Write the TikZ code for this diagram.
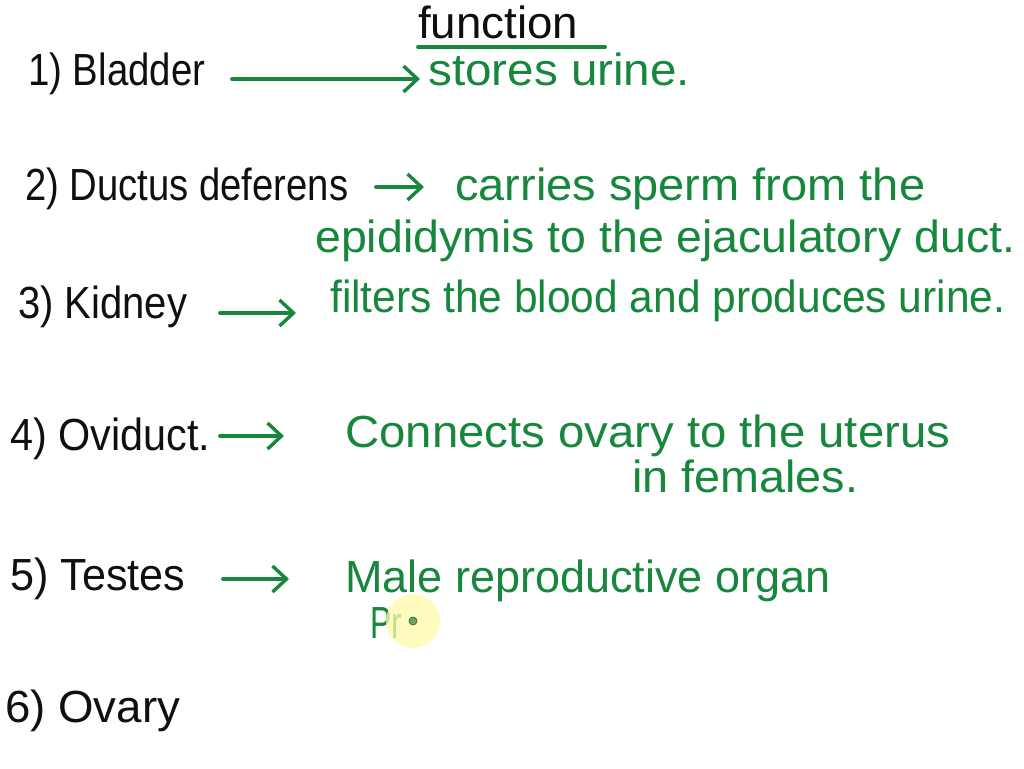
\documentclass[tikz,border=0pt]{standalone}
\usepackage{fontspec}
\setmainfont{Liberation Sans}
\usetikzlibrary{arrows.meta}
\definecolor{ink}{RGB}{22,135,60}
\definecolor{pen}{RGB}{15,15,15}
\definecolor{cursorfill}{RGB}{255,250,170}
\definecolor{cursordot}{RGB}{110,165,95}
\newcommand\fitw[2]{\resizebox{#1pt}{\height}{#2}}
\tikzset{
  organ/.style={anchor=base west, inner sep=0pt, text=pen, font=\fontsize{45}{50}\selectfont},
  func/.style={anchor=base west, inner sep=0pt, text=ink, font=\fontsize{45}{50}\selectfont},
  arr/.style={draw=ink, line width=3.8pt, line cap=round, -{Straight Barb[length=14pt,width=26pt,line width=3.4pt]}},
  uline/.style={draw=ink, line width=3.8pt, line cap=round}
}
\begin{document}
\begin{tikzpicture}[x=1pt,y=-1pt]
\useasboundingbox[fill=white] (0,0) rectangle (1024,768);
% heading
\node[organ] (head) at (418,38) {\fitw{160}{function}};
\coordinate (ulA) at (418,47);
\coordinate (ulB) at (605,47);
\draw[uline] (ulA) -- (ulB);
% 1
\node[organ] (o1) at (28,85) {\fitw{177}{1) Bladder}};
\node[func] (f1) at (428,85) {\fitw{262}{stores urine.}};
\coordinate (a1s) at (232,79); \coordinate (a1e) at (420,79);
\draw[arr] (a1s) -- (a1e);
% 2
\node[organ] (o2) at (25,200) {\fitw{323}{2) Ductus deferens}};
\node[func] (f2) at (455,200) {\fitw{470}{carries sperm from the}};
\node[func] (f2b) at (315,252) {\fitw{700}{epididymis to the ejaculatory duct.}};
\coordinate (a2s) at (376,187); \coordinate (a2e) at (424,187);
\draw[arr] (a2s) -- (a2e);
% 3
\node[organ] (o3) at (18,318) {\fitw{169}{3) Kidney}};
\node[func] (f3) at (330,312) {\fitw{675}{filters the blood and produces urine.}};
\coordinate (a3s) at (220,313); \coordinate (a3e) at (296,313);
\draw[arr] (a3s) -- (a3e);
% 4
\node[organ] (o4) at (10,450) {\fitw{200}{4) Oviduct.}};
\node[func] (f4) at (345,447) {\fitw{605}{Connects ovary to the uterus}};
\node[func] (f4b) at (632,492) {\fitw{226}{in females.}};
\coordinate (a4s) at (220,436); \coordinate (a4e) at (284,436);
\draw[arr] (a4s) -- (a4e);
% 5
\node[organ] (o5) at (10,590) {\fitw{175}{5) Testes}};
\node[func] (f5) at (345,592) {\fitw{485}{Male reproductive organ}};
\node[func] (f5b) at (370,638) {\fitw{32}{Pr}};
\coordinate (a5s) at (223,579); \coordinate (a5e) at (289,579);
\draw[arr] (a5s) -- (a5e);
% 6
\node[organ] (o6) at (5,722) {\fitw{175}{6) Ovary}};
% cursor
\fill[cursorfill, opacity=0.75] (413,621) circle (27);
\fill[cursordot, draw=ink!70!black, line width=0.6pt] (413,621) circle (4);
\end{tikzpicture}
\end{document}
